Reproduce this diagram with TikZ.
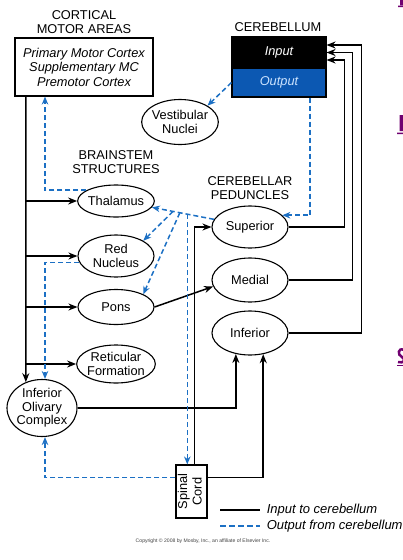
\documentclass[tikz,border=0pt]{standalone}
\usepackage{fontspec}
\setmainfont{Liberation Sans}
\usetikzlibrary{arrows.meta,positioning,shapes.geometric}

\definecolor{outblue}{RGB}{12,88,178}
\definecolor{dashblue}{RGB}{28,112,196}
\definecolor{paleblue}{RGB}{205,228,255}
\definecolor{slidepurple}{RGB}{112,0,112}
\newcommand{\lbl}{\fontsize{12.8}{14.5}\selectfont}

\begin{document}
\begin{tikzpicture}[x=1pt,y=-1pt,
  region/.style={ellipse, draw, line width=1.1pt, minimum width=76pt, minimum height=44pt,
    inner sep=-1pt, align=center, font=\lbl},
  heading/.style={align=center, inner sep=0pt, font=\lbl},
  inarr/.style={line width=1.5pt, -{Stealth[length=9pt,width=7pt]}},
  outarr/.style={dashblue, line width=1.5pt, dash pattern=on 5pt off 3pt, -{Stealth[length=8pt,width=6.5pt]}}]
\useasboundingbox (0,0) rectangle (403,560);

% Cortical motor areas
\node[heading] at (84,22) {CORTICAL\\MOTOR AREAS};
\node[draw, line width=1.1pt, minimum width=138pt, minimum height=58pt, align=center,
  font=\lbl\itshape] (cortex) at (84,67) {Primary Motor Cortex\\Supplementary MC\\Premotor Cortex};

% Cerebellum
\node[heading] at (278,27) {CEREBELLUM};
\node[draw, line width=1.1pt, fill=black, minimum width=94pt, minimum height=31pt,
  text=white, font=\lbl\itshape] (inp) at (279,52.5) {Input};
\node[draw, line width=1.1pt, fill=outblue, minimum width=94pt, minimum height=29pt,
  text=paleblue, font=\lbl\itshape] (outp) at (279,82.5) {Output};
\node[region, minimum height=45pt] (vest) at (180,122) {Vestibular\\Nuclei};

% Brainstem structures
\node[heading] at (116,162) {BRAINSTEM\\STRUCTURES};
\node[region, minimum height=32pt] (thal) at (116,201) {Thalamus};
\node[region, minimum height=42pt] (rn) at (116,256) {Red\\Nucleus};
\node[region, minimum height=35pt] (pons) at (116,307) {Pons};
\node[region, minimum height=38pt] (ret) at (116,364) {Reticular\\Formation};
\node[region, minimum width=70pt, minimum height=57pt, font=\fontsize{12.8}{13.5}\selectfont]
  (ioc) at (42,408) {Inferior\\Olivary\\Complex};

% Cerebellar peduncles
\node[heading] at (250,188) {CEREBELLAR\\PEDUNCLES};
\node[region, minimum height=42pt] (sup) at (250,227) {Superior};
\node[region] (med) at (250,280) {Medial};
\node[region] (inf) at (250,333) {Inferior};

% Spinal cord
\node[draw, line width=1.1pt, minimum width=31pt, minimum height=53pt, inner sep=0pt, font=\lbl]
  (spinal) at (191.5,491.5) {\rotatebox{90}{\begin{tabular}{@{}c@{}}Spinal\\Cord\end{tabular}}};

% Input to cerebellum
\draw[inarr] (cortex.south -| 26,0) -- (ioc.122);
\foreach \n in {thal,rn,pons,ret}
  \draw[inarr] (\n.west -| 26,0) -- (\n.west);
\draw[inarr] ([xshift=3pt]spinal.north) |- (sup.west);
\draw[inarr] (pons.east) -- (med.190);
\draw[inarr] (ioc.east) -| (inf.-124);
\draw[inarr] ([yshift=14pt]spinal.east) -| (inf.-58);
\draw[inarr] (sup.east) -- ++(56,0) |- ([yshift=-7.5pt]inp.east);
\draw[inarr] (med.east) -- ++(64,0) |- (inp.east);
\draw[inarr] (inf.east) -- ++(73,0) |- ([yshift=7.5pt]inp.east);

% Output from cerebellum
\draw[outarr] (outp.west) -- (vest.north east);
\draw[outarr] ([xshift=31pt]outp.south) |- (sup.20);
\draw[outarr] (sup.168) -- coordinate[pos=.43] (jv) coordinate[pos=.55] (jp)
  coordinate[pos=.66] (jr) (thal.-10);
\draw[outarr] (jr) -- (rn.north east);
\draw[outarr] (jp) -- (pons.north east);
\draw[outarr] (jv) -- (jv |- spinal.north);
\draw[outarr] (thal.160) -| (cortex.south -| 45,0);
\draw[outarr] (rn.190) -| (ioc.north -| 45,0);
\draw[outarr] ([yshift=14pt]spinal.west) -| (ioc.south -| 45,0);

% Legend
\coordinate (keyin) at (220,510);
\coordinate (keyout) at (220,526);
\draw[line width=1.5pt] (keyin) -- ++(40,0)
  node[right, inner sep=6pt, text=black, font=\fontsize{13}{14}\selectfont\itshape] {Input to cerebellum};
\draw[dashblue, line width=1.5pt, dash pattern=on 6pt off 3pt] (keyout) -- ++(40,0)
  node[right, inner sep=6pt, text=black, font=\fontsize{13}{14}\selectfont\itshape] {Output from cerebellum};

\node[font=\fontsize{5.1}{6}\selectfont, text=black!75] at (203,541)
  {Copyright \textcopyright{} 2008 by Mosby, Inc., an affiliate of Elsevier Inc.};

% slide remnants at the right edge
\fill[slidepurple] (400,0) rectangle (403,5) (398,5.5) rectangle (403,7);
\fill[slidepurple] (399.5,115) rectangle (403,131) (397,132.5) rectangle (403,134);
\draw[slidepurple, line width=2.5pt] (404,350) .. controls (398,347) and (397,355) .. (402,357)
  .. controls (406,359) and (404,364) .. (398,362);
\fill[slidepurple] (397,364.5) rectangle (403,366);

\end{tikzpicture}
\end{document}
